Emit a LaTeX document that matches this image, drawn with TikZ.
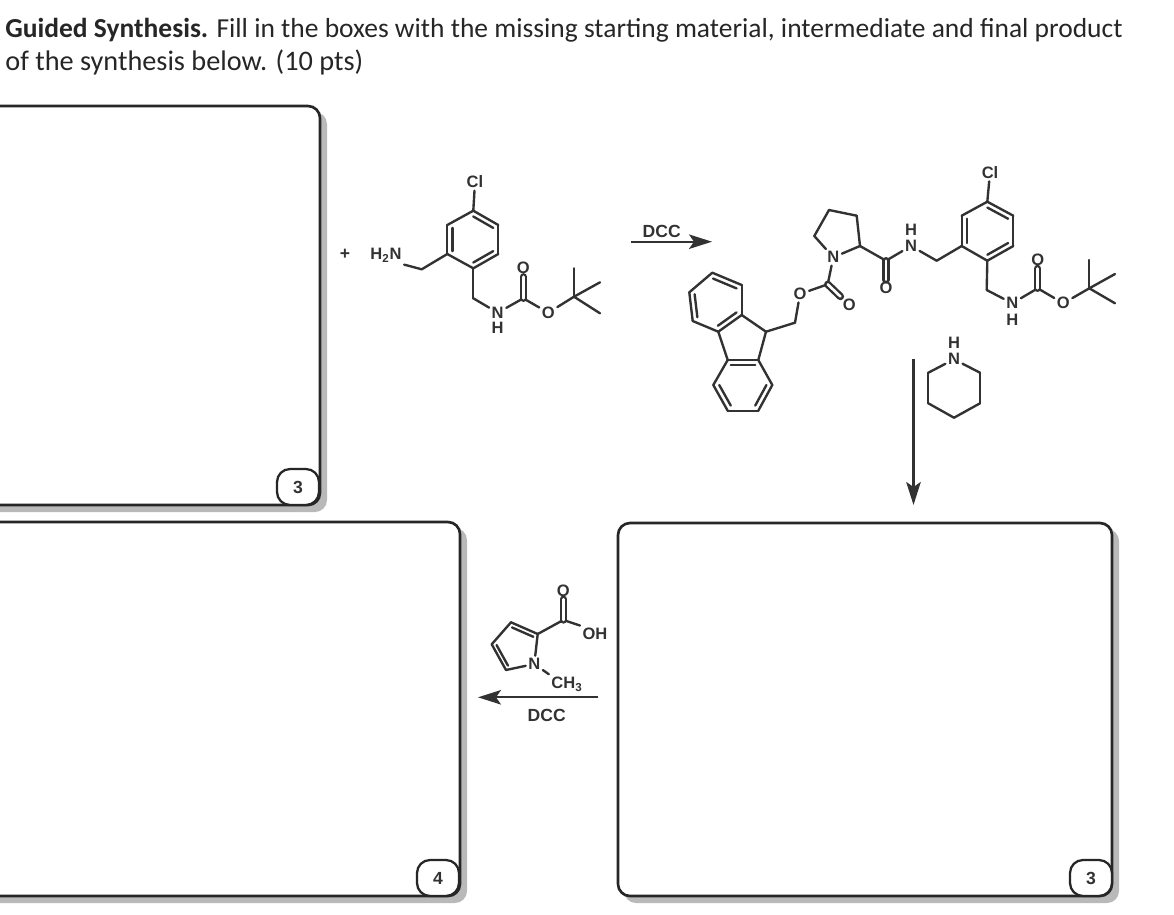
\documentclass[tikz,border=0pt]{standalone}
\usepackage{fontspec}
\setmainfont{Carlito}
\newfontfamily\chemfont{Liberation Sans}
\usetikzlibrary{calc,arrows.meta}
\definecolor{inkgrey}{RGB}{50,50,50}
\definecolor{shadowgrey}{RGB}{185,185,185}
\tikzset{>={Stealth[length=.46cm,width=.29cm,inset=.1cm]}}
\tikzset{
  bond/.style={draw=inkgrey,line width=1.35pt,line cap=round,line join=round},
  dblbond/.style={bond,double=white,double distance=1.5pt},
  atom/.style={font=\chemfont\bfseries\fontsize{9.4}{9.4}\selectfont,text=inkgrey,inner sep=1.3pt},
  reagent/.style={atom,font=\chemfont\bfseries\fontsize{10}{10}\selectfont},
  rxnarrow/.style={draw=inkgrey,line width=1.25pt,->},
  panel/.style={draw=black!85,line width=1.5pt,rounded corners=.24cm},
  panelshadow/.style={fill=shadowgrey,rounded corners=.24cm},
  badge/.style={draw=black!85,line width=1.3pt,fill=white,rounded corners=.26cm,
    minimum width=.84cm,minimum height=.72cm,inner sep=0pt,text=inkgrey,
    font=\chemfont\bfseries\fontsize{10}{10}\selectfont},
  headline/.style={anchor=base west,inner sep=0pt,text=black!85,font=\fontsize{15.65}{18}\selectfont},
}
\newcommand{\inbond}[3]{\draw[bond] ($(#1)!.2!(#3)$) -- ($(#2)!.2!(#3)$);}

\begin{document}
\begin{tikzpicture}[x=.02cm,y=-.02cm]
    \clip (0,0) rectangle (1174,914);

    \node[headline] (titlea) at (5,37) {\textbf{Guided Synthesis.} Fill in the boxes with the missing starting material, intermediate and final product};
    \node[headline,font=\fontsize{16.1}{18}\selectfont] (titleb) at (5,70) {of the synthesis below. (10 pts)};

    % answer boxes
    \fill[panelshadow] (-40,112) rectangle (327,512);
    \fill[panelshadow] (-40,528) rectangle (467,903);
    \fill[panelshadow] (624,529) rectangle (1119,903);
    \draw[panel,fill=white] (-40,106) rectangle (320,505);
    \draw[panel,fill=white] (-40,522) rectangle (460,896);
    \draw[panel,fill=white] (618,523) rectangle (1112,896);
    \node[badge] (badgea) at (298,487) {3};
    \node[badge] (badgeb) at (438,878) {4};
    \node[badge] (badgec) at (1091,878) {3};

    % amine
    \foreach \name/\x/\y in {ra/473.3/210.7,rb/498.3/225,rc/498.3/254,rd/473.3/268.3,re/447.3/254,rf/447.3/225,
        rm/473/239.5,ch2a/421.7/269.3,ch2b/473.3/298.3,coa/523.3/298.3,tba/574/296.7,
        mea/574/268.3,meb/600/282.3,mec/600/313.3}
      \coordinate (\name) at (\x,\y);
    \node[atom,font=\chemfont\bfseries\fontsize{10}{10}\selectfont] (plus) at (345,254) {+};
    \node[atom] (cla) at (475,182) {Cl};
    \node[atom] (h2n) at (386,255) {H\textsubscript{2}N};
    \node[atom] (nha) at (497.7,312.7) {N};
    \node[atom] (ha) at (497.7,328.3) {H};
    \node[atom] (oa) at (523.3,268.3) {O};
    \node[atom] (ob) at (548.3,312.7) {O};
    \foreach \a/\b in {ra/rb,rb/rc,rc/rd,rd/re,re/rf,rf/ra,ra/cla,re/ch2a,rd/ch2b,ch2b/nha,nha/coa,coa/ob,ob/tba,tba/mea,tba/meb,tba/mec}
      \draw[bond] (\a) -- (\b);
    \draw[bond] (ch2a) -- (h2n.south east);
    \draw[dblbond] (coa) -- (oa);
    \inbond{re}{rf}{rm}
    \inbond{ra}{rb}{rm}
    \inbond{rc}{rd}{rm}

    % first arrow
    \coordinate (arra) at (631,241.7);
    \coordinate (arrb) at (712,241.7);
    \draw[rxnarrow] (arra) -- (arrb);
    \node[reagent] (dcca) at (661.7,231) {DCC};

    % protected product
    \foreach \name/\x/\y in {pa/987.3/201.7,pb/1013.3/215.7,pc/1013.3/246,pd/987.3/260.7,pe/961.7/246,pf/961.7/215.7,
        pm/987.5/231,pch2a/936.7/260.7,pco/886/260.7,ya/860/246,yb/856.7/215.7,yc/829/210,yd/814.3/236,
        fco/827.7/284.3,fch2/795/322.7,fnine/766/331.7,
        ua/741.7/285,ub/712.3/272.7,uc/689.3/292.3,ud/692.7/321,ue/718.3/331.7,uf/741.7/315,um/716/302,
        la/727.7/360,lb/758.3/360,lc/772.3/385,ld/758.3/410.7,le/727.7/410.7,lf/713.3/385,lm/743/385,
        pch2b/986.7/290,pcob/1037.7/288.3,ptb/1089.3/288.3,pmea/1089.3/260,pmeb/1115/274,pmec/1115/303.3}
      \coordinate (\name) at (\x,\y);
    \node[atom] (clb) at (990,172.7) {Cl};
    \node[atom] (nhb) at (911,246) {N};
    \node[atom] (hb) at (911,230) {H};
    \node[atom] (oc) at (886,288.3) {O};
    \node[atom] (ny) at (833.3,257.3) {N};
    \node[atom] (od) at (849.3,305) {O};
    \node[atom] (oe) at (800,294) {O};
    \node[atom] (nhc) at (1012.3,303.3) {N};
    \node[atom] (hc) at (1012.3,320) {H};
    \node[atom] (of) at (1037.7,260) {O};
    \node[atom] (og) at (1063.3,303.3) {O};
    \foreach \a/\b in {pa/pb,pb/pc,pc/pd,pd/pe,pe/pf,pf/pa,pa/clb,pe/pch2a,pch2a/nhb,nhb/pco,pco/ya,ya/yb,yb/yc,yc/yd,yd/ny,ny/ya,
        ny/fco,fco/oe,oe/fch2,fch2/fnine,fnine/uf,fnine/lb,
        ua/ub,ub/uc,uc/ud,ud/ue,ue/uf,uf/ua,ue/la,
        la/lb,lb/lc,lc/ld,ld/le,le/lf,lf/la,
        pd/pch2b,pch2b/nhc,nhc/pcob,pcob/og,og/ptb,ptb/pmea,ptb/pmeb,ptb/pmec}
      \draw[bond] (\a) -- (\b);
    \draw[dblbond] (pco) -- (oc);
    \draw[dblbond] (fco) -- (od);
    \draw[dblbond] (pcob) -- (of);
    \inbond{pe}{pf}{pm}
    \inbond{pa}{pb}{pm}
    \inbond{pc}{pd}{pm}
    \inbond{ua}{ub}{um}
    \inbond{uc}{ud}{um}
    \inbond{ue}{uf}{um}
    \inbond{la}{lb}{lm}
    \inbond{lc}{ld}{lm}
    \inbond{le}{lf}{lm}

    % piperidine step
    \coordinate (arrc) at (913.5,359);
    \coordinate (arrd) at (913.5,505);
    \draw[rxnarrow] (arrc) -- (arrd);
    \foreach \name/\x/\y in {sa/980/372.7,sb/980/403.3,sc/954/417.7,sd/928.3/403.3,se/928.3/372.7}
      \coordinate (\name) at (\x,\y);
    \node[atom] (nd) at (954,359.3) {N};
    \node[atom] (hd) at (954,342.7) {H};
    \foreach \a/\b in {nd/sa,sa/sb,sb/sc,sc/sd,sd/se,se/nd}
      \draw[bond] (\a) -- (\b);

    % pyrrole acid
    \foreach \name/\x/\y in {qa/537.7/634,qb/511/622.3,qc/491.7/644.3,qd/506/670,qm/516/648,qco/563.3/620}
      \coordinate (\name) at (\x,\y);
    \node[atom] (nq) at (534.3,664) {N};
    \node[atom] (oh) at (595,634) {OH};
    \node[atom] (oq) at (563.3,590.7) {O};
    \node[atom] (ch3) at (567,684) {CH\textsubscript{3}};
    \foreach \a/\b in {nq/qa,qa/qb,qb/qc,qc/qd,qd/nq,qa/qco}
      \draw[bond] (\a) -- (\b);
    \draw[bond] (qco) -- (oh.north west);
    \draw[bond] (nq) -- (ch3.north west);
    \draw[dblbond] (qco) -- (oq);
    \inbond{qa}{qb}{qm}
    \inbond{qc}{qd}{qm}

    % last arrow
    \coordinate (arre) at (598.3,697.3);
    \coordinate (arrf) at (478,697.3);
    \draw[rxnarrow] (arre) -- (arrf);
    \node[reagent] (dccb) at (546.7,715.7) {DCC};
  \end{tikzpicture}
\end{document}
